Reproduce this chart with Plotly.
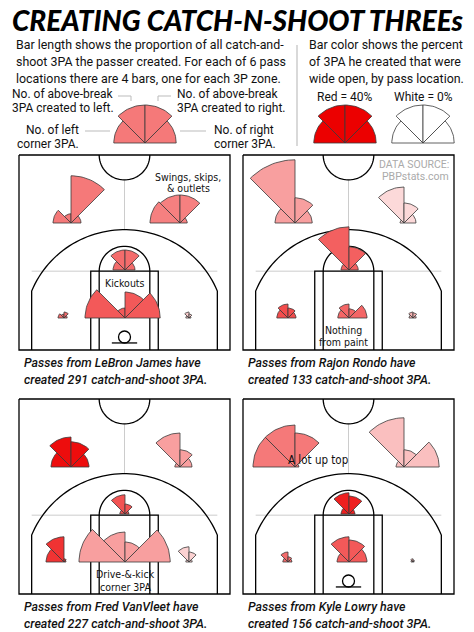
import numpy as np
import plotly.graph_objects as go

# ---------------- DATA ----------------
players = ["LeBron James", "Rajon Rondo", "Fred VanVleet", "Kyle Lowry"]
totals = [291, 133, 227, 156]
locations = ["Left wing", "Right wing", "Top", "Paint", "Left corner", "Right corner"]
zones = ["Left corner 3PA", "Left above-break 3PA", "Right above-break 3PA", "Right corner 3PA"]

# share (% of passer's catch-and-shoot 3PA) per pass location, per 3P zone
lebron_share = [[4.5, 2.3, 11.8, 2.5], [7.5, 7.0, 7.0, 1.8], [3.0, 5.0, 5.0, 2.5],
                [10.0, 2.5, 6.5, 8.8], [1.5, 1.0, 1.5, 0.8], [0.8, 1.5, 1.0, 0.5]]
rondo_share = [[5.0, 15.8, 6.3, 4.3], [1.0, 9.0, 5.0, 3.0], [2.0, 10.8, 5.8, 2.3],
               [2.8, 3.5, 2.3, 4.5], [2.8, 3.5, 2.5, 2.0], [1.0, 1.5, 1.3, 0.8]]
vanvleet_share = [[5.0, 7.5, 6.3, 4.5], [1.3, 8.5, 4.3, 3.0], [1.3, 4.8, 2.5, 1.0],
                  [11.5, 7.5, 5.0, 11.3], [4.5, 6.3, 0.8, 0.5], [0.8, 3.8, 2.5, 0.8]]
lowry_share = [[10.5, 10.5, 8.5, 1.0], [2.0, 12.3, 4.3, 8.8], [2.0, 5.3, 4.5, 1.5],
               [3.0, 6.3, 5.5, 4.5], [1.3, 2.5, 1.3, 1.0], [0.5, 0.8, 0.5, 0.3]]
shares = [lebron_share, rondo_share, vanvleet_share, lowry_share]

# % wide open per pass location
lebron_open = [21, 20, 23, 26, 23, 8]
rondo_open = [15, 6, 25, 24, 28, 12]
vanvleet_open = [38, 15, 27, 15, 32, 7]
lowry_open = [21, 10, 35, 26, 23, 11]
opens = [lebron_open, rondo_open, vanvleet_open, lowry_open]

legend_share = [7.8, 9.5, 9.5, 7.8]

# ---------------- LAYOUT ----------------
W, H = 474, 632
PX_PER_SHARE = 4.0
panels = [(19, 155), (243, 155), (19, 399), (243, 399)]
PW, PH = 211, 195
loc_origin = [(52, 68), (161, 68), (106, 115), (106, 163), (45, 163), (170, 163)]
SX, SY = PW / 50.0, PH / 47.0

def color(p):
    f = min(p / 40.0, 1.0)
    r = 255 + (236 - 255) * f
    g = 255 * (1 - f)
    return f"rgb({r:.0f},{g:.0f},{g:.0f})"

fig = go.Figure()

def wedge(ox, oy, r, a0, a1, col):
    t = np.radians(np.linspace(a0, a1, 16))
    xs = [ox] + list(ox + r * np.cos(t)) + [ox]
    ys = [oy] + list(oy - r * np.sin(t)) + [oy]
    fig.add_trace(go.Scatter(x=xs, y=ys, mode="lines", fill="toself", fillcolor=col,
                             line=dict(color="#3a3a3a", width=0.8), hoverinfo="skip",
                             showlegend=False))

def fan(ox, oy, vals, col, scale=PX_PER_SHARE):
    for i, v in enumerate(vals):
        wedge(ox, oy, v * scale, 180 - 45 * i, 135 - 45 * i, col)

shapes = []
def line(pts, col="black", w=1.3, dash="solid"):
    d = "M " + " L ".join(f"{x:.2f},{y:.2f}" for x, y in pts)
    shapes.append(dict(type="path", path=d, line=dict(color=col, width=w, dash=dash), layer="below"))

def court(x0, y0, hoop=True):
    cx = x0 + PW / 2
    yb = y0 + PH
    P = lambda fx, fy: (cx + fx * SX, yb - fy * SY)
    line([P(0, 41), P(0, 29)], "#cccccc", 1)
    line([P(-22, 19), P(22, 19)], "#cccccc", 1)
    line([(x0, y0), (x0 + PW, y0), (x0 + PW, yb), (x0, yb), (x0, y0)])
    t = np.radians(np.linspace(180, 360, 40))
    line([P(6 * np.cos(a), 47 + 6 * np.sin(a)) for a in t])
    a_end = np.degrees(np.arcsin((14.2 - 5.25) / 23.75))
    t = np.radians(np.linspace(180 - a_end, a_end, 60))
    line([P(-22, 0), P(-22, 14.2)] + [P(23.75 * np.cos(a), 5.25 + 23.75 * np.sin(a)) for a in t]
         + [P(22, 0)])
    line([P(-8, 0), P(-8, 19), P(8, 19), P(8, 0)])
    t = np.radians(np.linspace(180, 0, 30))
    line([P(-6, 0), P(-6, 19)] + [P(6 * np.cos(a), 19 + 6 * np.sin(a)) for a in t] + [P(6, 0)])
    if hoop:
        shapes.append(dict(type="circle", x0=cx - 6, x1=cx + 6, y0=yb - 19, y1=yb - 7,
                           line=dict(color="black", width=1.3), layer="below"))
        line([P(-3, 1.7), P(3, 1.7)])

hoops = [True, False, False, True]
for k, (x0, y0) in enumerate(panels):
    court(x0, y0, hoops[k])
    for j, (lx, ly) in enumerate(loc_origin):
        fan(x0 + lx, y0 + ly, shares[k][j], color(opens[k][j]))

fan(145, 143, legend_share, color(21))
fan(345, 143, legend_share, color(40))
fan(423, 143, legend_share, color(0))
for pts in [[(118, 96), (131, 96), (131, 101)], [(158, 101), (158, 96), (171, 96)],
            [(85, 131), (110, 131)], [(180, 131), (206, 131)]]:
    line(pts, "#bbbbbb", 1)
line([(297, 45), (297, 146)], "#cccccc", 1.5)

ann = []
def txt(x, y, lines, size=12, xa="left", col="#111", fam="Roboto", dy=15, italic=False, weight=400):
    for i, s in enumerate(lines):
        if italic:
            s = f"<i>{s}</i>"
        ann.append(dict(x=x, y=y + i * dy, text=s, showarrow=False, xanchor=xa, yanchor="middle",
                        font=dict(size=size, color=col, family=fam, weight=weight)))

ann.append(dict(x=238, y=20, text="<i>CREATING CATCH-N-SHOOT THREEs</i>", showarrow=False,
                xanchor="center", yanchor="middle",
                font=dict(size=28, family="Lato", color="black", weight=900)))
txt(14, 44, ["Bar length shows the proportion of all catch-and-",
             "shoot 3PA the passer created. For each of 6 pass",
             "locations there are 4 bars, one for each 3P zone."], 12.4, dy=17)
txt(307, 44, ["Bar color shows the percent",
              "of 3PA he created that were",
              "wide open, by pass location."], 12.4, dy=17)
txt(116, 94, ["No. of above-break", "3PA created to left."], 12, "right", dy=14)
txt(175, 94, ["No. of above-break", "3PA created to right."], 12, dy=14)
txt(81, 130, ["No. of left", "corner 3PA."], 12, "right", dy=14)
txt(212, 130, ["No. of right", "corner 3PA."], 12, dy=14)
txt(345, 97, ["Red = 40%"], 12, "center")
txt(423, 97, ["White = 0%"], 12, "center")
txt(451, 164, ["DATA SOURCE:", "PBPstats.com"], 10.5, "right", "#aaaaaa", dy=12)

hf = "DejaVu Sans Condensed"
txt(188, 177, ["Swings, skips,", "& outlets"], 10.5, "center", "#111", hf, dy=11)
txt(125, 283, ["Kickouts"], 10.5, "center", "#111", hf)
txt(343, 330, ["Nothing", "from paint"], 10.5, "center", "#111", hf, dy=12)
txt(125, 574, ["Drive-&-kick", "corner 3PA"], 10.5, "center", "#111", hf, dy=13)
txt(318, 460, ["A lot up top"], 11.5, "center", "#111", hf)

caps = [(22, 362), (246, 362), (22, 606), (246, 606)]
for k, (cx, cy) in enumerate(caps):
    txt(cx, cy, [f"Passes from {players[k]} have",
                 f"created {totals[k]} catch-and-shoot 3PA."], 12.4, "left", "#111", "Roboto",
        dy=17, italic=True, weight=500)

fig.update_layout(width=W, height=H, margin=dict(l=0, r=0, t=0, b=0),
                  paper_bgcolor="white", plot_bgcolor="white",
                  xaxis=dict(range=[0, W], visible=False, fixedrange=True),
                  yaxis=dict(range=[H, 0], visible=False, fixedrange=True),
                  shapes=shapes, annotations=ann, showlegend=False)
fig.write_html("out.html", config={"displayModeBar": False},
               post_script="document.body.style.margin='0';document.body.style.overflow='hidden';")
